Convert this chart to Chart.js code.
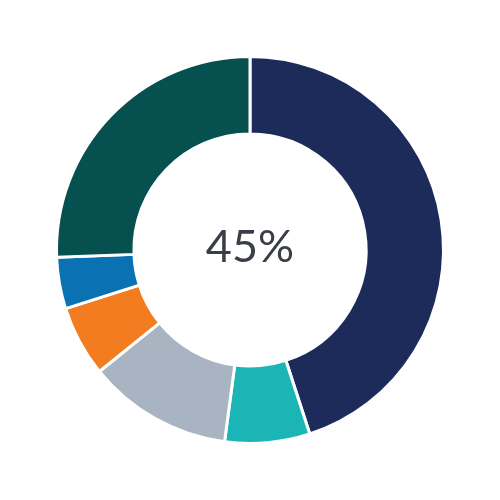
<!DOCTYPE html>
<html>
<head>
<meta charset="utf-8">
<script src="https://cdn.jsdelivr.net/npm/chart.js@4"></script>
<style>
  html, body { margin: 0; padding: 0; background: #ffffff; }
  #wrap { width: 500px; height: 500px; }
</style>
</head>
<body>
<div id="wrap"><canvas id="donut"></canvas></div>
<script>
// Shares, clockwise from 12 o'clock
const labels = ['A', 'B', 'C', 'D', 'E', 'F'];
const values = [45, 7.1, 12.1, 5.9, 4.3, 25.6];
const colors = ['#1c2b5a', '#1bb5b6', '#a9b4c3', '#f47c20', '#0a72b3', '#06514f'];
const centerLabel = '45%';

// Text in the hole
const centerText = {
    id: 'centerText',
    afterDraw(chart) {
        const ctx = chart.ctx;
        const meta = chart.getDatasetMeta(0).data[0];
        ctx.save();
        ctx.font = '400 45px Lato, "Open Sans", sans-serif';
        ctx.fillStyle = '#3a3f47';
        ctx.textAlign = 'center';
        ctx.textBaseline = 'middle';
        ctx.fillText(centerLabel, meta.x, meta.y - 3);
        ctx.restore();
    }
};

new Chart(document.getElementById('donut'), {
    type: 'doughnut',
    data: {
        labels: labels,
        datasets: [{
            data: values,
            backgroundColor: colors,
            borderColor: '#ffffff',
            borderWidth: 3
        }]
    },
    options: {
        responsive: true,
        maintainAspectRatio: false,
        animation: false,
        cutout: '60%',
        layout: { padding: 55 },
        plugins: {
            legend: { display: false },
            tooltip: { enabled: false }
        }
    },
    plugins: [centerText]
});
</script>
</body>
</html>
